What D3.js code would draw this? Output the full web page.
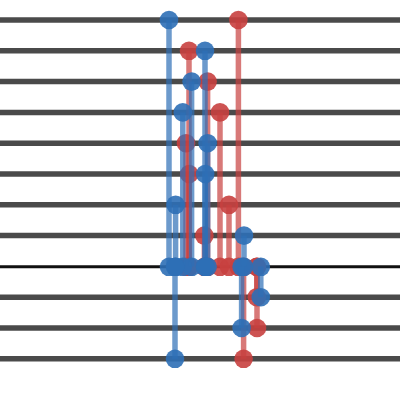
<!DOCTYPE html>
<html>
<head>
<meta charset="utf-8">
<script src="https://cdn.jsdelivr.net/npm/d3@7"></script>
<style>
  html, body { margin: 0; padding: 0; background: #fff; }
  svg { display: block; }
</style>
</head>
<body>
<script>
// one entry per row, top to bottom
var rows = [8, 7, 6, 5, 4, 3, 2, 1, -1, -2, -3];
var redValues = [59.6, 47.25, 51.9, 55, 46.5, 47.3, 57.25, 51.1, 64.2, 64.25, 60.9];
var blueValues = [42.25, 51.25, 47.9, 45.7, 51.9, 51.3, 43.9, 61, 65.2, 60.4, 43.75];

var size = 400;

var x = d3.scaleLinear().domain([0, 100]).range([0, size]);
var y = d3.scaleLinear().domain([-3, 8]).range([358.8, 20]);

var svg = d3.select("body").append("svg")
            .attr("width", size)
            .attr("height", size);

// horizontal lines
svg.append("g").selectAll("line")
   .data(rows)
   .join("line")
   .attr("x1", 0)
   .attr("x2", size)
   .attr("y1", d => y(d))
   .attr("y2", d => y(d))
   .attr("stroke", "#4a4a4a")
   .attr("stroke-width", 5.5);

// zero line
svg.append("line")
   .attr("x1", 0)
   .attr("x2", size)
   .attr("y1", y(0) + 0.4)
   .attr("y2", y(0) + 0.4)
   .attr("stroke", "#111")
   .attr("stroke-width", 3);

function drawSeries(values, color) {
  var g = svg.append("g");

  g.selectAll("line")
   .data(values)
   .join("line")
   .attr("x1", d => x(d))
   .attr("x2", d => x(d))
   .attr("y1", y(0))
   .attr("y2", (d, i) => y(rows[i]))
   .attr("stroke", color)
   .attr("stroke-opacity", 0.7)
   .attr("stroke-width", 5.5);

  // dot at the row
  g.selectAll("circle.end")
   .data(values)
   .join("circle")
   .attr("class", "end")
   .attr("cx", d => x(d))
   .attr("cy", (d, i) => y(rows[i]))
   .attr("r", 9.3)
   .attr("fill", color)
   .attr("fill-opacity", 0.9);

  // dot on the zero line
  g.selectAll("circle.base")
   .data(values)
   .join("circle")
   .attr("class", "base")
   .attr("cx", d => x(d))
   .attr("cy", y(0) + 0.4)
   .attr("r", 9.3)
   .attr("fill", color)
   .attr("fill-opacity", 0.9);
}

drawSeries(redValues, "#c8403f");
drawSeries(blueValues, "#2e6fb6");
</script>
</body>
</html>
